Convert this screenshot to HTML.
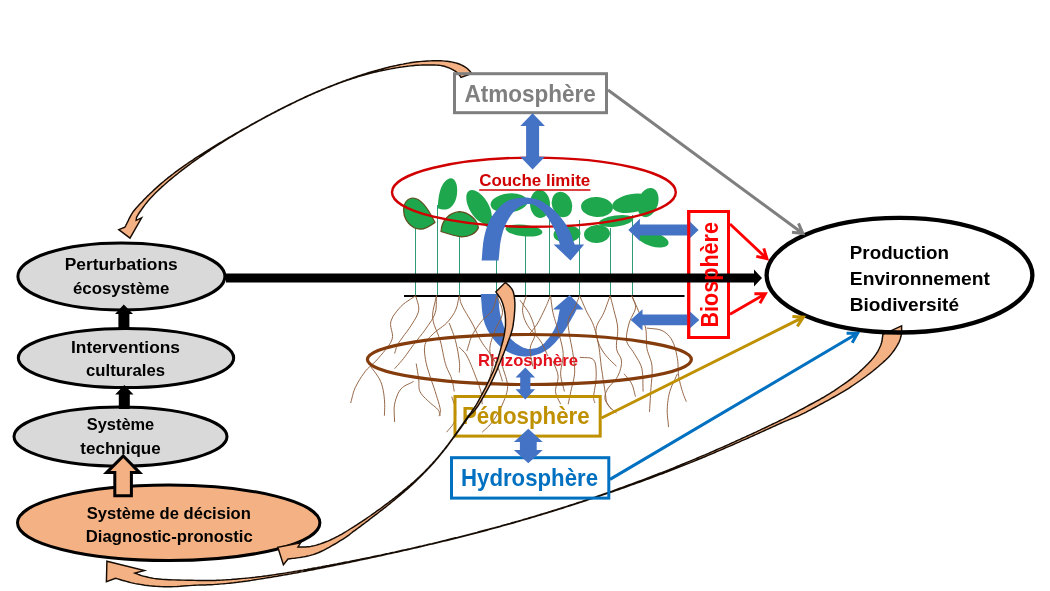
<!DOCTYPE html>
<html lang="fr"><head><meta charset="utf-8"><title>Schéma agrosystème</title>
<style>
html,body{margin:0;padding:0;background:#fff;}
body{width:1050px;height:591px;overflow:hidden;}
svg{display:block;will-change:transform;}
svg text{font-family:"Liberation Sans",sans-serif;font-weight:bold;}
</style></head><body>
<svg width="1050" height="591" viewBox="0 0 1050 591">
<rect width="1050" height="591" fill="#fff"/>
<line x1="415.5" y1="225" x2="415.5" y2="296" stroke="#2f9a78" stroke-width="1"/>
<line x1="437.5" y1="205" x2="437.5" y2="296" stroke="#2f9a78" stroke-width="1"/>
<line x1="459.5" y1="232" x2="459.5" y2="296" stroke="#2f9a78" stroke-width="1"/>
<line x1="496.5" y1="250" x2="496.5" y2="296" stroke="#2f9a78" stroke-width="1"/>
<line x1="525.5" y1="225" x2="525.5" y2="296" stroke="#2f9a78" stroke-width="1"/>
<line x1="549.5" y1="215" x2="549.5" y2="296" stroke="#2f9a78" stroke-width="1"/>
<line x1="579.5" y1="220" x2="579.5" y2="296" stroke="#2f9a78" stroke-width="1"/>
<line x1="610.5" y1="228" x2="610.5" y2="296" stroke="#2f9a78" stroke-width="1"/>
<line x1="632.5" y1="215" x2="632.5" y2="296" stroke="#2f9a78" stroke-width="1"/>
<path d="M438,208.5 C438,195 441,181 450,178.3 C456,178 458,186 457,194 C456,203 451,209 446,209.5 C443,209.8 440,209 438,208.5Z" fill="#1ea74c"/>
<ellipse cx="479" cy="207" rx="9.5" ry="19" transform="rotate(-31 479 207)" fill="#1ea74c"/>
<ellipse cx="509" cy="203" rx="18.5" ry="9.5" transform="rotate(-6 509 203)" fill="#1ea74c"/>
<ellipse cx="540" cy="204" rx="10" ry="14" transform="rotate(-3 540 204)" fill="#1ea74c"/>
<ellipse cx="562" cy="204.5" rx="10" ry="13" transform="rotate(-18 562 204.5)" fill="#1ea74c"/>
<ellipse cx="524" cy="230.5" rx="18.5" ry="5.8" transform="rotate(6 524 230.5)" fill="#1ea74c"/>
<ellipse cx="597" cy="207" rx="16" ry="10" transform="rotate(4 597 207)" fill="#1ea74c"/>
<ellipse cx="632" cy="203.3" rx="20" ry="9.2" transform="rotate(-10 632 203.3)" fill="#1ea74c"/>
<ellipse cx="648" cy="202.6" rx="10" ry="15" transform="rotate(18 648 202.6)" fill="#1ea74c"/>
<ellipse cx="597" cy="234" rx="13" ry="9" transform="rotate(-4 597 234)" fill="#1ea74c"/>
<ellipse cx="616" cy="221" rx="17.5" ry="5.5" transform="rotate(-8 616 221)" fill="#1ea74c"/>
<ellipse cx="653" cy="239.5" rx="16" ry="7" transform="rotate(15 653 239.5)" fill="#1ea74c"/>
<ellipse cx="567" cy="234" rx="13.5" ry="8.5" transform="rotate(-5 567 234)" fill="#1ea74c"/>
<ellipse cx="490" cy="222" rx="9" ry="6" transform="rotate(30 490 222)" fill="#1ea74c"/>
<path d="M403.7,211 C403,203 408,198 413,198 C420,198 427,206 435,222.4 C430,226 425,229 420.5,229.2 C411,229 404,220 403.7,211Z" fill="#1ea74c" stroke="#5f4a1c" stroke-width="1.2"/>
<path d="M441,231.5 C441.5,221 449,212.5 459.3,211.7 C469,212.5 477,219 478.4,227.7 C476,233.5 469,237 461.6,236.9 C454,236 447,233.5 441,231.5Z" fill="#1ea74c" stroke="#5f4a1c" stroke-width="1.2"/>
<ellipse cx="533.9" cy="192.2" rx="141.9" ry="34.6" fill="none" stroke="#d00000" stroke-width="2.4"/>
<text x="479.2" y="186.3" font-size="17" fill="#d00000" text-anchor="start" textLength="111" lengthAdjust="spacingAndGlyphs">Couche limite</text>
<line x1="479.2" y1="190" x2="590.4" y2="190" stroke="#d00000" stroke-width="1.3"/>
<text x="478" y="365.6" font-size="16.6" fill="#e3101c" text-anchor="start" textLength="100" lengthAdjust="spacingAndGlyphs">Rhizosphère</text>
<line x1="404" y1="296" x2="684.5" y2="296" stroke="#000" stroke-width="2"/>
<path d="M481.6,260.5 L481.9,257.8 L482.1,255.0 L482.3,252.2 L482.5,249.4 L482.8,246.7 L483.0,244.0 L483.4,241.4 L483.8,238.9 L484.3,236.5 L484.8,234.2 L485.4,232.0 L486.0,229.8 L486.7,227.8 L487.4,225.7 L488.2,223.8 L489.0,221.9 L489.9,220.1 L490.8,218.3 L491.9,216.6 L492.9,215.0 L494.0,213.5 L495.2,212.0 L496.3,210.6 L497.5,209.2 L498.7,207.9 L499.9,206.7 L501.1,205.5 L502.3,204.4 L503.7,203.4 L505.0,202.4 L506.5,201.6 L508.0,200.8 L509.7,200.1 L511.4,199.5 L513.3,199.0 L515.2,198.5 L517.1,198.2 L519.1,197.9 L521.0,197.7 L522.9,197.6 L524.8,197.6 L526.7,197.6 L528.5,197.8 L530.4,198.0 L532.3,198.3 L534.1,198.7 L536.0,199.1 L537.7,199.7 L539.4,200.3 L541.1,201.1 L542.7,201.9 L544.3,202.9 L545.9,203.9 L547.4,204.9 L548.9,206.0 L550.4,207.1 L551.8,208.3 L553.2,209.5 L554.6,210.7 L556.0,212.1 L557.3,213.4 L558.6,214.8 L559.8,216.3 L561.0,217.7 L562.2,219.2 L563.3,220.7 L564.4,222.2 L565.5,223.8 L566.6,225.4 L567.6,227.1 L568.5,228.7 L569.4,230.4 L570.2,232.1 L570.9,233.8 L571.6,235.6 L572.2,237.4 L572.8,239.2 L573.4,241.0 L574.1,242.8 L574.7,244.6 L584.2,244.6 L570.5,260.5 L553.6,244.6 L559.9,244.6 L559.5,243.4 L559.2,242.2 L558.8,241.0 L558.5,239.8 L558.1,238.5 L557.7,237.3 L557.2,236.0 L556.7,234.6 L556.1,233.1 L555.4,231.6 L554.7,230.0 L553.9,228.3 L553.1,226.7 L552.2,225.0 L551.3,223.4 L550.4,221.9 L549.5,220.4 L548.5,218.8 L547.5,217.3 L546.4,215.8 L545.3,214.3 L544.2,213.0 L543.1,211.7 L541.9,210.5 L540.7,209.4 L539.4,208.4 L538.1,207.4 L536.7,206.5 L535.4,205.7 L534.0,205.1 L532.6,204.6 L531.3,204.2 L530.0,204.0 L528.6,204.0 L527.3,204.1 L525.9,204.4 L524.6,204.8 L523.3,205.2 L522.0,205.7 L520.8,206.3 L519.6,206.9 L518.5,207.6 L517.4,208.4 L516.4,209.2 L515.3,210.2 L514.3,211.2 L513.3,212.3 L512.3,213.5 L511.3,214.8 L510.3,216.2 L509.3,217.8 L508.3,219.4 L507.4,221.0 L506.5,222.7 L505.7,224.5 L504.9,226.2 L504.2,227.9 L503.6,229.6 L503.0,231.4 L502.5,233.2 L502.0,235.0 L501.5,236.9 L501.1,238.9 L500.7,241.0 L500.3,243.2 L500.0,245.5 L499.8,248.0 L499.5,250.5 L499.3,253.0 L499.1,255.5 L498.8,258.0 L498.6,260.5Z" fill="#4472c4"/>
<path d="M480.7,294.0 L481.0,297.3 L481.3,300.7 L481.6,304.1 L481.8,307.5 L482.1,310.8 L482.5,314.0 L483.0,317.1 L483.7,320.0 L484.5,322.7 L485.4,325.2 L486.4,327.6 L487.5,329.9 L488.7,332.1 L490.0,334.2 L491.3,336.3 L492.8,338.3 L494.4,340.3 L496.1,342.3 L497.9,344.2 L499.8,346.0 L501.8,347.7 L503.8,349.3 L505.9,350.8 L508.0,352.0 L510.1,353.1 L512.3,354.0 L514.6,354.8 L516.9,355.5 L519.2,356.0 L521.6,356.3 L523.9,356.5 L526.3,356.5 L528.7,356.3 L531.2,356.0 L533.8,355.4 L536.3,354.7 L538.9,353.9 L541.4,352.9 L543.7,351.8 L546.0,350.5 L548.1,349.1 L550.2,347.4 L552.2,345.6 L554.1,343.7 L556.0,341.7 L557.8,339.6 L559.6,337.4 L561.3,335.2 L563.0,332.8 L564.8,330.2 L566.5,327.5 L568.2,324.7 L569.7,322.0 L571.2,319.5 L572.4,317.2 L573.5,315.4 L574.3,314.0 L574.9,312.9 L575.3,312.1 L575.6,311.5 L575.8,311.0 L576.0,310.6 L576.3,310.1 L576.6,309.4 L583.4,309.4 L569.7,294.9 L553.0,309.4 L559.8,309.4 L559.3,311.7 L558.8,314.0 L558.4,316.3 L558.0,318.6 L557.5,320.9 L556.9,323.1 L556.1,325.4 L555.2,327.6 L554.0,329.9 L552.7,332.2 L551.2,334.5 L549.6,336.9 L547.9,339.1 L546.2,341.1 L544.6,342.9 L543.0,344.4 L541.5,345.6 L539.9,346.6 L538.4,347.3 L536.9,347.9 L535.3,348.3 L533.8,348.6 L532.3,348.8 L530.9,348.9 L529.5,348.9 L528.2,348.9 L526.9,348.7 L525.6,348.3 L524.3,347.9 L522.9,347.4 L521.6,346.7 L520.2,345.9 L518.7,345.0 L517.1,344.0 L515.5,342.9 L513.9,341.6 L512.3,340.2 L510.8,338.7 L509.3,337.0 L508.0,335.2 L506.8,333.2 L505.6,330.9 L504.6,328.5 L503.6,326.0 L502.7,323.3 L501.8,320.7 L501.1,318.0 L500.4,315.4 L499.9,312.8 L499.5,310.2 L499.2,307.5 L499.0,304.8 L498.8,302.1 L498.6,299.4 L498.4,296.7 L498.2,294.0Z" fill="#4472c4"/>
<path d="M415.7,295.6 L413.1,297.4 L410.6,299.1 L408.0,300.8 L405.5,302.5 L403.1,304.4 L400.9,306.5 L398.8,308.8 L396.8,311.2 L394.9,313.7 L393.1,316.3 L391.8,319.0 L390.8,321.7 L390.5,324.5 L390.9,327.4 L391.6,330.4 L392.3,333.4 L392.6,336.4 L392.0,339.5 L390.6,342.7 L388.5,346.0 L385.9,349.3 L383.2,352.6 L380.5,355.7 L378.1,358.5 L375.9,361.0 L373.7,363.1 L371.5,365.1 L369.4,367.0 L367.3,369.0 L365.4,371.2 L363.5,373.8 L361.6,376.5 L359.8,379.3 L358.1,382.2 L356.6,385.0 L355.2,387.7 L354.1,390.4 L353.3,392.9 L352.6,395.4 L352.0,397.9 L351.4,400.4 L350.7,403.0 M370.5,366.2 L372.2,368.7 L374.1,371.1 L375.9,373.6 L377.7,376.1 L379.3,378.7 L380.6,381.4 L381.7,384.2 L382.5,387.2 L383.2,390.2 L383.7,393.2 L384.1,396.2 L384.4,399.2 L384.6,402.0 L384.7,404.8 L384.7,407.5 L384.6,410.2 L384.5,412.9 L384.4,415.7 M415.7,295.6 L416.3,298.0 L417.1,300.5 L417.8,302.9 L418.5,305.4 L418.8,307.8 L418.7,310.3 L418.1,312.8 L417.1,315.3 L415.9,317.7 L414.4,320.3 L412.8,322.9 L411.1,325.5 L409.2,328.4 L406.9,331.6 L404.5,334.7 L402.2,337.9 L400.1,340.8 L398.4,343.3 L397.2,345.4 L396.5,347.3 L395.9,348.9 L395.5,350.4 L395.1,351.9 L394.6,353.5 M436.5,295.6 L436.3,298.5 L436.3,301.4 L436.3,304.3 L436.2,307.2 L435.9,310.1 L435.2,312.8 L434.2,315.5 L432.9,318.0 L431.5,320.5 L429.8,323.0 L428.1,325.5 L426.3,328.1 L424.4,330.8 L422.3,333.6 L420.0,336.4 L417.8,339.2 L415.6,342.0 L413.6,344.6 L411.8,347.1 L410.0,349.6 L408.3,352.0 L406.7,354.3 L405.1,356.5 L403.5,358.5 L401.9,360.5 L400.4,362.2 L398.9,363.9 L397.5,365.5 L396.0,367.1 L394.6,368.7 M436.5,295.6 L435.7,299.3 L434.8,303.0 L433.9,306.7 L433.1,310.4 L432.6,314.2 L432.7,317.9 L433.3,321.7 L434.4,325.5 L435.9,329.3 L437.5,333.1 L439.0,337.0 L440.3,340.8 L441.3,344.7 L442.1,348.7 L442.9,352.7 L443.7,356.6 L444.5,360.3 L445.4,363.6 L446.4,366.6 L447.5,369.4 L448.7,371.9 L449.8,374.2 L450.9,376.6 L451.7,378.9 L452.3,381.1 L452.8,383.3 L453.2,385.4 L453.5,387.4 L453.9,389.5 L454.2,391.5 M459.3,295.6 L458.7,298.1 L458.2,300.6 L457.7,303.1 L457.2,305.6 L456.4,308.0 L455.5,310.3 L454.4,312.6 L453.1,314.8 L451.6,316.9 L450.1,319.0 L448.4,321.1 L446.6,323.0 L444.7,324.8 L442.5,326.5 L440.3,328.2 L438.0,329.8 L435.9,331.4 L433.9,333.2 L432.1,334.9 L430.3,336.6 L428.6,338.3 L427.1,340.2 L425.9,342.2 L425.0,344.6 L424.6,347.2 L424.4,350.0 L424.6,353.1 L425.0,356.3 L425.5,359.8 L426.3,363.6 L427.4,367.9 L428.9,372.6 L430.5,377.7 L432.2,382.7 L433.9,387.4 L435.2,391.5 L436.3,395.2 L437.4,398.6 L438.4,401.8 L439.2,404.6 L439.8,407.1 L440.3,409.3 L440.4,411.1 L440.3,412.4 L440.0,413.4 L439.7,414.3 L439.3,415.2 L439.0,416.2 M459.3,295.6 L459.7,297.1 L459.9,298.5 L460.1,299.9 L460.4,301.4 L461.0,303.2 L461.9,305.2 L463.1,307.7 L464.7,310.6 L466.5,313.6 L468.4,316.8 L470.3,319.9 L472.0,323.0 L473.6,326.0 L475.1,329.1 L476.5,332.2 L478.0,335.2 L479.4,338.1 L480.9,340.8 L482.4,343.2 L483.9,345.4 L485.4,347.4 L486.9,349.4 L488.4,351.4 L489.8,353.5 L491.2,355.6 L492.5,357.6 L493.8,359.7 L495.1,361.7 L496.3,363.9 L497.4,366.2 L498.4,368.6 L499.3,371.1 L500.1,373.6 L500.9,376.2 L501.7,378.8 L502.5,381.4 M416.2,363.6 L416.6,366.2 L417.1,368.8 L417.5,371.4 L417.9,374.0 L418.4,376.5 L418.7,378.9 L418.9,381.1 L418.9,383.4 L418.9,385.5 L419.0,387.6 L419.3,389.6 L420.0,391.5 L421.0,393.4 L422.4,395.2 L423.9,396.9 L425.6,398.6 L427.3,400.2 L428.9,401.7 L430.4,403.1 L432.1,404.5 L433.7,405.7 L435.2,407.0 L436.6,408.2 L437.7,409.3 L438.5,410.5 L439.1,411.5 L439.4,412.6 L439.7,413.6 L439.9,414.6 L440.3,415.7 M394.6,422.0 L394.5,419.0 L394.3,416.0 L394.2,413.0 L394.1,410.0 L394.2,407.1 L394.6,404.2 L395.2,401.5 L396.0,398.7 L397.0,396.0 L398.1,393.4 L399.4,391.1 L400.9,389.0 L402.7,387.3 L404.7,385.9 L406.9,384.7 L409.2,383.7 L411.4,382.6 L413.6,381.4 M449.2,323.0 L450.3,325.9 L451.4,328.8 L452.5,331.7 L453.6,334.7 L454.6,337.7 L455.5,340.8 L456.3,344.1 L457.1,347.7 L457.8,351.3 L458.4,354.9 L458.9,358.2 L459.3,361.1 L459.5,363.5 L459.6,365.6 L459.6,367.4 L459.5,369.0 L459.4,370.7 L459.3,372.5 M459.3,347.1 L460.6,348.5 L461.9,349.8 L463.1,351.0 L464.4,352.4 L465.7,354.0 L466.9,356.0 L468.2,358.5 L469.5,361.3 L470.8,364.3 L472.1,367.5 L473.4,370.7 L474.6,373.8 L475.7,376.8 L476.9,379.9 L478.1,383.0 L479.2,386.0 L480.1,388.9 L480.9,391.5 L481.4,394.0 L481.7,396.2 L481.9,398.2 L481.9,400.2 L482.0,402.2 L482.2,404.2 M496.9,295.6 L496.2,298.1 L495.6,300.7 L495.0,303.2 L494.3,305.7 L493.4,308.1 L492.3,310.3 L491.0,312.2 L489.4,313.8 L487.6,315.4 L485.8,316.9 L483.9,318.5 L482.2,320.5 L480.4,322.7 L478.6,325.2 L476.8,327.8 L475.0,330.4 L473.4,333.1 L472.0,335.7 L470.9,338.2 L469.9,340.8 L469.2,343.3 L468.4,345.9 L467.7,348.4 L466.9,350.9 M496.9,295.6 L498.0,298.5 L499.2,301.3 L500.5,304.2 L501.6,307.1 L502.3,309.9 L502.5,312.8 L501.9,315.8 L500.8,318.7 L499.3,321.7 L497.7,324.7 L496.1,327.7 L494.9,330.6 L493.8,333.6 L492.7,336.5 L491.7,339.5 L490.8,342.5 L490.2,345.4 L489.8,348.4 L489.9,351.3 L490.3,354.2 L491.1,357.1 L491.8,360.0 L492.3,363.1 L492.3,366.2 L491.9,369.4 L491.2,372.7 L490.3,376.2 L489.2,379.6 L488.2,383.1 L487.2,386.5 M502.5,366.2 L503.4,369.6 L504.5,373.0 L505.7,376.5 L506.6,379.9 L507.3,383.2 L507.6,386.5 L507.4,389.6 L506.8,392.6 L506.0,395.5 L504.9,398.4 L503.7,401.3 L502.5,404.2 L501.1,407.3 L499.5,410.4 L497.7,413.6 L495.9,416.7 L494.1,419.5 L492.3,422.0 L490.6,424.1 L488.9,426.0 L487.2,427.6 L485.6,429.1 L483.9,430.6 L482.2,432.2 M446.6,432.2 L448.0,430.5 L449.4,428.9 L450.8,427.2 L452.2,425.6 L453.3,423.9 L454.2,422.0 L454.9,420.0 L455.3,418.0 L455.6,415.8 L455.7,413.6 L455.7,411.5 L455.5,409.3 L455.2,407.2 L454.6,405.1 L453.9,403.0 L453.2,400.9 L452.4,398.7 L451.7,396.6 M579.7,295.6 L580.7,298.0 L581.7,300.5 L582.8,302.9 L583.8,305.4 L584.9,307.8 L586.0,310.3 L587.2,312.8 L588.5,315.2 L589.9,317.6 L591.2,320.1 L592.5,322.7 L593.6,325.5 L594.6,328.6 L595.6,331.9 L596.5,335.4 L597.3,338.9 L598.0,342.4 L598.7,345.9 L599.3,349.2 L599.7,352.4 L600.0,355.7 L600.4,359.0 L600.8,362.5 L601.2,366.2 L601.8,370.2 L602.5,374.7 L603.1,379.3 L603.8,383.8 L604.5,388.0 L605.0,391.5 L605.5,394.4 L605.8,396.9 L606.0,398.9 L606.3,400.8 L606.8,402.5 L607.6,404.2 L608.7,405.9 L610.1,407.5 L611.6,408.9 L613.3,410.3 L614.9,411.7 L616.5,413.1 M610.1,295.6 L610.8,298.0 L611.4,300.4 L612.0,302.8 L612.7,305.2 L613.3,307.7 L613.9,310.3 L614.6,313.1 L615.4,315.9 L616.2,318.8 L616.8,321.9 L617.4,324.9 L617.7,328.1 L617.7,331.4 L617.5,334.9 L617.0,338.6 L616.6,342.1 L616.4,345.4 L616.5,348.4 L617.1,350.9 L618.0,353.1 L619.2,355.1 L620.3,356.9 L621.1,358.9 L621.5,361.1 L621.5,363.5 L621.2,366.1 L620.6,368.7 L619.8,371.3 L618.8,373.9 L617.7,376.3 L616.3,378.6 L614.5,380.8 L612.6,383.0 L610.6,385.1 L608.9,387.1 L607.6,389.0 L606.6,390.8 L605.8,392.6 L605.3,394.2 L605.0,395.9 L604.9,397.5 L605.0,399.2 L605.6,400.9 L606.5,402.5 L607.7,404.2 L608.9,405.9 L610.2,407.6 L611.4,409.3 M631.7,295.6 L632.5,297.6 L633.3,299.5 L634.2,301.5 L635.0,303.5 L635.5,305.6 L635.5,307.8 L635.0,310.1 L634.0,312.5 L632.7,315.0 L631.4,317.6 L630.1,320.3 L629.2,323.0 L628.4,325.9 L627.7,328.9 L627.0,332.0 L626.6,335.1 L626.4,338.1 L626.6,340.8 L627.3,343.2 L628.4,345.3 L629.8,347.3 L631.3,349.2 L632.9,351.3 L634.2,353.5 L635.6,355.8 L637.0,358.1 L638.4,360.4 L639.8,363.0 L641.0,365.7 L641.9,368.7 L642.4,372.1 L642.8,375.8 L642.9,379.6 L642.9,383.7 L643.0,387.7 L643.1,391.5 M631.7,295.6 L633.0,298.5 L634.3,301.4 L635.6,304.3 L636.9,307.2 L638.1,310.1 L639.3,312.8 L640.5,315.4 L641.7,317.9 L642.9,320.3 L644.0,322.7 L644.9,325.3 L645.7,328.1 L646.1,331.2 L646.3,334.6 L646.4,338.1 L646.4,341.6 L646.6,345.1 L646.9,348.4 L647.6,351.4 L648.6,354.2 L649.6,357.0 L650.6,359.8 L651.5,362.8 L652.0,366.2 L652.2,370.0 L652.1,374.2 L651.8,378.7 L651.4,383.2 L651.0,387.5 L650.7,391.5 L650.5,395.2 L650.3,398.7 L650.1,402.0 L649.9,405.3 L649.7,408.5 L649.5,411.9 M646.9,328.1 L649.5,328.4 L652.2,328.6 L654.9,328.9 L657.5,329.2 L659.9,329.8 L662.2,330.6 L664.2,331.8 L666.1,333.2 L667.9,334.7 L669.5,336.5 L671.0,338.6 L672.3,340.8 L673.5,343.3 L674.5,346.1 L675.4,349.2 L676.2,352.3 L676.8,355.5 L677.4,358.5 L677.8,361.5 L678.0,364.6 L678.1,367.6 L678.2,370.6 L678.4,373.5 L678.7,376.3 L679.2,379.1 L679.8,381.8 L680.4,384.4 L681.1,386.9 L681.8,389.3 L682.5,391.5 L683.1,393.5 L683.7,395.3 L684.4,396.9 L685.0,398.5 L685.7,400.1 L686.3,401.7 M677.4,373.8 L676.1,376.7 L674.7,379.7 L673.3,382.7 L671.9,385.6 L670.8,388.6 L669.8,391.5 L669.0,394.5 L668.4,397.5 L668.0,400.4 L667.6,403.4 L667.4,406.4 L667.2,409.3 L667.2,412.3 L667.4,415.2 L667.6,418.2 L668.0,421.2 L668.3,424.1 L668.5,427.1 M569.5,335.7 L570.2,339.1 L570.9,342.6 L571.6,346.0 L572.2,349.4 L572.8,352.8 L573.3,356.0 L573.7,359.1 L574.1,362.1 L574.4,365.1 L574.6,367.9 L574.7,370.8 L574.6,373.8 L574.2,376.8 L573.6,379.9 L572.9,383.0 L572.1,386.0 L571.4,388.9 L570.8,391.5 L570.3,394.0 L569.8,396.2 L569.4,398.2 L569.0,400.2 L568.6,402.2 L568.2,404.2 M550.5,295.6 L550.9,298.5 L551.2,301.3 L551.6,304.2 L552.0,307.1 L552.4,309.9 L553.0,312.8 L553.7,315.7 L554.5,318.5 L555.4,321.4 L556.3,324.3 L557.2,327.4 L558.1,330.6 L559.0,334.2 L560.1,338.0 L561.1,341.9 L562.0,345.9 L562.8,349.7 L563.2,353.5 L563.1,357.0 L562.6,360.5 L562.0,363.9 L561.3,367.3 L560.8,370.6 L560.6,373.8 L560.9,376.9 L561.4,379.9 L562.1,382.8 L562.9,385.7 L563.7,388.6 L564.4,391.5 M579.7,357.3 L582.1,357.5 L584.7,357.6 L587.4,357.7 L589.8,357.9 L592.0,358.6 L593.6,359.8 L594.8,361.7 L595.5,364.1 L595.9,367.0 L596.1,370.0 L596.2,373.2 L596.2,376.3 L596.0,379.6 L595.6,383.3 L595.0,387.1 L594.4,390.7 L593.9,394.0 L593.6,396.6 L593.6,398.5 L593.8,399.8 L594.0,400.7 L594.3,401.4 L594.6,402.1 L594.9,403.0 M520.0,300.2 L521.8,302.7 L523.6,305.1 L525.4,307.6 L527.1,310.1 L528.8,312.7 L530.2,315.4 L531.4,318.2 L532.6,321.2 L533.6,324.3 L534.5,327.3 L535.0,330.3 L535.2,333.2 L534.9,335.8 L534.0,338.3 L532.9,340.8 L531.7,343.2 L530.7,345.7 L530.2,348.4 L530.1,351.2 L530.4,354.1 L530.9,357.1 L531.6,360.1 L532.2,363.2 L532.7,366.2 M624.1,373.8 L625.4,375.4 L626.8,377.1 L628.1,378.7 L629.4,380.4 L630.7,382.1 L631.7,383.9 L632.6,385.9 L633.3,388.0 L633.8,390.1 L634.4,392.3 L634.9,394.5 L635.5,396.6 M526.3,295.6 L525.6,298.0 L524.7,300.5 L523.9,302.9 L523.1,305.4 L522.7,307.8 L522.5,310.3 L522.8,312.8 L523.3,315.3 L524.0,317.9 L525.0,320.4 L526.2,323.0 L527.6,325.5 L529.3,328.1 L531.5,330.6 L533.8,333.2 L536.2,335.7 L538.4,338.2 L540.3,340.8 L541.9,343.3 L543.2,345.9 L544.4,348.4 L545.6,350.9 L546.7,353.5 L547.9,356.0 M550.5,295.6 L549.6,297.6 L548.9,299.5 L548.1,301.5 L547.3,303.5 L546.4,305.6 L545.4,307.8 L544.3,310.2 L543.0,312.8 L541.7,315.5 L540.4,318.2 L539.1,320.7 L537.8,323.0 L536.5,325.0 L535.2,326.8 L534.0,328.4 L532.7,330.0 L531.4,331.5 L530.2,333.2 M579.7,295.6 L578.8,297.6 L578.0,299.6 L577.2,301.6 L576.4,303.7 L575.5,305.7 L574.6,307.8 L573.5,309.8 L572.3,311.9 L571.0,313.9 L569.8,316.0 L568.9,318.2 L568.2,320.5 L568.0,322.9 L568.1,325.4 L568.4,327.9 L568.8,330.5 L569.2,333.1 L569.5,335.7 M610.1,295.6 L609.1,298.5 L608.1,301.4 L607.0,304.3 L606.0,307.2 L604.9,310.1 L603.8,312.8 L602.5,315.5 L601.0,318.1 L599.4,320.6 L598.0,323.1 L596.9,325.6 L596.2,328.1 L595.9,330.6 L596.1,333.3 L596.5,335.9 L597.1,338.4 L597.9,340.9 L598.7,343.3 L599.6,345.6 L600.8,347.8 L602.0,350.0 L603.4,352.1 L604.8,354.1 L606.3,356.0 L607.9,357.8 L609.5,359.6 L611.2,361.2 L613.0,362.9 L614.7,364.5 L616.5,366.2 M553.0,361.1 L553.9,363.6 L555.0,366.2 L556.0,368.7 L557.0,371.2 L557.7,373.8 L558.1,376.3 L558.0,378.9 L557.5,381.5 L556.8,384.1 L556.1,386.7 L555.6,389.2 L555.5,391.5 L555.9,393.8 L556.7,396.0 L557.6,398.1 L558.6,400.1 L559.7,402.2 L560.6,404.2" fill="none" stroke="#90603f" stroke-width="0.95"/>
<ellipse cx="529.4" cy="359.5" rx="162" ry="25" fill="none" stroke="#843c0c" stroke-width="3.2"/>
<path d="M472.0,73.5 L471.2,72.7 L470.5,71.9 L469.8,71.1 L469.0,70.3 L468.3,69.5 L467.5,68.7 L466.6,68.0 L465.6,67.3 L464.5,66.6 L463.4,66.0 L462.3,65.4 L461.1,64.8 L459.8,64.3 L458.4,63.8 L457.0,63.3 L455.5,62.9 L453.9,62.5 L452.3,62.1 L450.5,61.8 L448.7,61.5 L446.8,61.3 L444.9,61.1 L442.8,60.9 L440.6,60.8 L438.2,60.7 L435.6,60.8 L432.9,60.8 L430.1,60.9 L427.3,61.0 L424.6,61.2 L422.0,61.4 L419.6,61.6 L417.5,61.8 L415.5,62.0 L413.6,62.2 L411.9,62.5 L410.2,62.8 L408.4,63.1 L406.7,63.4 L404.9,63.7 L403.1,64.1 L401.2,64.4 L399.4,64.8 L397.5,65.2 L395.7,65.6 L393.8,66.0 L392.0,66.4 L390.1,66.8 L388.3,67.3 L386.5,67.7 L384.6,68.2 L382.8,68.7 L381.0,69.2 L379.1,69.6 L377.3,70.2 L375.5,70.7 L373.7,71.2 L371.9,71.7 L370.0,72.3 L368.2,72.8 L366.4,73.4 L364.6,74.0 L362.8,74.5 L361.0,75.1 L359.2,75.7 L357.4,76.3 L355.6,76.9 L353.8,77.5 L352.1,78.1 L350.3,78.8 L348.5,79.4 L346.7,80.0 L345.0,80.7 L343.2,81.3 L341.4,82.0 L339.7,82.6 L337.9,83.3 L336.2,84.0 L334.4,84.6 L332.7,85.3 L330.9,86.0 L329.2,86.7 L327.4,87.4 L325.7,88.1 L324.0,88.8 L322.2,89.5 L320.5,90.3 L318.8,91.0 L317.1,91.7 L315.4,92.5 L313.7,93.2 L312.0,94.0 L310.3,94.7 L308.6,95.5 L306.9,96.2 L305.2,97.0 L303.5,97.8 L301.8,98.6 L300.1,99.4 L298.5,100.2 L296.8,101.0 L295.1,101.8 L293.5,102.6 L291.8,103.4 L290.1,104.2 L288.5,105.0 L286.8,105.8 L285.1,106.7 L283.5,107.5 L281.8,108.3 L280.2,109.2 L278.5,110.0 L276.9,110.9 L275.3,111.7 L273.6,112.6 L272.0,113.4 L270.3,114.3 L268.7,115.2 L267.1,116.0 L265.4,116.9 L263.8,117.8 L262.2,118.7 L260.6,119.6 L258.9,120.5 L257.3,121.3 L255.7,122.2 L254.1,123.1 L252.4,124.0 L250.8,124.9 L249.2,125.9 L247.6,126.8 L246.0,127.7 L244.3,128.6 L242.7,129.5 L241.1,130.4 L239.5,131.4 L237.9,132.3 L236.3,133.2 L234.6,134.2 L233.0,135.1 L231.4,136.0 L229.8,137.0 L228.2,137.9 L226.6,138.9 L225.0,139.8 L223.4,140.8 L221.8,141.8 L220.1,142.7 L218.5,143.7 L216.9,144.7 L215.3,145.6 L213.7,146.6 L212.1,147.6 L210.5,148.6 L208.9,149.6 L207.3,150.6 L205.7,151.6 L204.1,152.6 L202.6,153.6 L201.0,154.6 L199.4,155.7 L197.8,156.7 L196.2,157.7 L194.6,158.7 L193.1,159.8 L191.5,160.8 L189.9,161.9 L188.4,162.9 L186.8,164.0 L185.2,165.1 L183.7,166.2 L182.1,167.3 L180.6,168.3 L179.1,169.4 L177.5,170.6 L176.0,171.7 L174.5,172.8 L173.0,174.0 L171.5,175.1 L170.0,176.3 L168.5,177.4 L167.1,178.6 L165.6,179.8 L164.2,181.0 L162.7,182.2 L161.3,183.4 L159.9,184.6 L158.5,185.9 L157.1,187.1 L155.7,188.4 L154.3,189.6 L152.9,190.9 L151.6,192.2 L150.2,193.5 L148.9,194.8 L147.5,196.1 L146.2,197.4 L144.9,198.7 L143.6,200.0 L142.4,201.4 L141.1,202.7 L139.8,204.1 L138.5,205.5 L137.2,206.9 L136.0,208.3 L134.8,209.7 L133.7,211.0 L132.7,212.4 L131.8,213.8 L130.9,215.3 L130.1,216.8 L129.3,218.3 L128.6,219.7 L128.0,221.1 L127.4,222.3 L126.9,223.3 L126.5,224.1 L126.1,224.8 L125.9,225.3 L125.7,225.7 L125.5,226.1 L125.3,226.5 L125.1,226.8 L124.9,227.3 L118.8,229.6 L130.0,238.2 L141.6,217.9 L136.2,220.3 L136.3,219.8 L136.3,219.4 L136.3,219.0 L136.3,218.6 L136.4,218.2 L136.5,217.6 L136.8,216.9 L137.3,216.0 L138.0,214.9 L138.8,213.5 L139.8,212.0 L140.9,210.5 L142.0,208.8 L143.2,207.2 L144.4,205.6 L145.5,204.1 L146.7,202.7 L147.8,201.3 L149.0,199.9 L150.2,198.6 L151.4,197.2 L152.7,195.9 L154.0,194.6 L155.2,193.3 L156.5,192.0 L157.9,190.7 L159.2,189.4 L160.6,188.2 L161.9,186.9 L163.3,185.7 L164.7,184.5 L166.1,183.2 L167.5,182.0 L168.9,180.8 L170.3,179.6 L171.8,178.4 L173.2,177.2 L174.7,176.0 L176.1,174.9 L177.6,173.7 L179.0,172.5 L180.5,171.4 L182.0,170.2 L183.5,169.1 L185.0,167.9 L186.5,166.8 L188.0,165.7 L189.5,164.6 L191.0,163.5 L192.5,162.3 L194.1,161.2 L195.6,160.1 L197.1,159.1 L198.7,158.0 L200.2,156.9 L201.8,155.8 L203.3,154.8 L204.9,153.7 L206.4,152.6 L208.0,151.6 L209.6,150.6 L211.1,149.5 L212.7,148.5 L214.3,147.5 L215.8,146.4 L217.4,145.4 L219.0,144.4 L220.6,143.4 L222.2,142.4 L223.7,141.4 L225.3,140.4 L226.9,139.4 L228.5,138.5 L230.1,137.5 L231.7,136.5 L233.3,135.6 L234.9,134.6 L236.5,133.6 L238.1,132.7 L239.7,131.7 L241.3,130.8 L242.9,129.8 L244.5,128.9 L246.1,128.0 L247.7,127.1 L249.4,126.1 L251.0,125.2 L252.6,124.3 L254.2,123.4 L255.8,122.5 L257.4,121.6 L259.1,120.7 L260.7,119.8 L262.3,118.9 L264.0,118.1 L265.6,117.2 L267.2,116.3 L268.8,115.4 L270.5,114.6 L272.1,113.7 L273.8,112.8 L275.4,112.0 L277.0,111.1 L278.7,110.3 L280.3,109.4 L282.0,108.6 L283.6,107.8 L285.3,106.9 L286.9,106.1 L288.6,105.3 L290.3,104.5 L291.9,103.6 L293.6,102.8 L295.2,102.0 L296.9,101.2 L298.6,100.4 L300.3,99.6 L302.0,98.8 L303.6,98.1 L305.3,97.3 L307.0,96.5 L308.7,95.7 L310.4,95.0 L312.1,94.2 L313.8,93.5 L315.5,92.7 L317.2,92.0 L318.9,91.3 L320.6,90.5 L322.4,89.8 L324.1,89.1 L325.8,88.4 L327.5,87.7 L329.3,87.0 L331.0,86.3 L332.8,85.6 L334.5,84.9 L336.3,84.2 L338.0,83.6 L339.8,82.9 L341.5,82.3 L343.3,81.6 L345.1,81.0 L346.9,80.4 L348.6,79.8 L350.4,79.2 L352.2,78.6 L354.0,78.0 L355.8,77.5 L357.6,76.9 L359.4,76.4 L361.2,75.9 L363.0,75.3 L364.9,74.8 L366.7,74.3 L368.5,73.8 L370.3,73.4 L372.2,72.9 L374.0,72.4 L375.8,72.0 L377.7,71.6 L379.5,71.1 L381.4,70.7 L383.2,70.3 L385.0,70.0 L386.9,69.6 L388.7,69.2 L390.6,68.9 L392.4,68.5 L394.3,68.2 L396.1,67.9 L398.0,67.6 L399.8,67.3 L401.7,67.1 L403.5,66.8 L405.3,66.6 L407.2,66.3 L408.9,66.1 L410.7,65.9 L412.5,65.7 L414.3,65.5 L416.1,65.3 L418.0,65.2 L420.1,65.1 L422.2,65.0 L424.6,64.9 L427.1,64.9 L429.6,64.9 L432.1,64.9 L434.4,65.0 L436.6,65.1 L438.6,65.2 L440.3,65.4 L441.8,65.7 L443.2,66.0 L444.5,66.3 L445.7,66.7 L446.8,67.1 L447.9,67.5 L449.0,67.9 L450.1,68.3 L451.1,68.8 L452.1,69.3 L453.1,69.9 L453.9,70.4 L454.8,70.9 L455.5,71.4 L456.2,71.9 L456.8,72.3 L457.3,72.8 L457.8,73.2 L458.1,73.6 L458.5,74.0 L458.8,74.4 L459.1,74.7 L459.4,75.1 L459.7,75.4 L459.9,75.7 L460.1,76.0 L460.3,76.3 L460.5,76.6 L460.6,76.8 L460.8,77.1 L461.0,77.4Z" fill="#f4b183" stroke="#160c04" stroke-width="1.45" stroke-linejoin="miter" stroke-miterlimit="6"/>
<path d="M882.9,334.4 L882.7,335.6 L882.6,336.7 L882.4,337.8 L882.3,339.0 L882.1,340.1 L881.9,341.3 L881.6,342.5 L881.2,343.7 L880.8,344.9 L880.3,346.2 L879.7,347.5 L879.1,348.8 L878.5,350.0 L877.8,351.3 L877.0,352.6 L876.2,353.9 L875.3,355.2 L874.4,356.4 L873.4,357.7 L872.4,358.9 L871.3,360.2 L870.1,361.4 L868.9,362.7 L867.7,364.0 L866.4,365.3 L865.0,366.7 L863.6,368.1 L862.1,369.5 L860.6,370.9 L859.1,372.3 L857.5,373.7 L855.9,375.0 L854.3,376.3 L852.7,377.6 L851.1,378.8 L849.4,380.1 L847.7,381.4 L846.0,382.6 L844.2,383.9 L842.3,385.2 L840.3,386.5 L838.3,387.9 L836.2,389.3 L834.1,390.8 L831.9,392.2 L829.7,393.6 L827.5,394.9 L825.4,396.2 L823.2,397.5 L821.0,398.7 L818.8,400.0 L816.6,401.2 L814.4,402.4 L812.3,403.5 L810.3,404.5 L808.5,405.5 L806.9,406.4 L805.5,407.1 L804.3,407.8 L803.1,408.5 L801.9,409.1 L800.7,409.7 L799.4,410.4 L798.0,411.2 L796.4,412.1 L794.7,413.0 L792.9,413.9 L791.1,414.9 L789.3,415.9 L787.4,416.9 L785.5,417.8 L783.7,418.8 L781.9,419.7 L780.1,420.5 L778.3,421.4 L776.5,422.3 L774.6,423.2 L772.8,424.0 L771.0,424.9 L769.2,425.7 L767.4,426.6 L765.5,427.5 L763.7,428.3 L761.9,429.2 L760.1,430.1 L758.3,430.9 L756.4,431.8 L754.6,432.6 L752.8,433.5 L751.0,434.3 L749.1,435.2 L747.3,436.0 L745.5,436.9 L743.7,437.7 L741.8,438.5 L740.0,439.4 L738.1,440.2 L736.3,441.0 L734.5,441.9 L732.6,442.7 L730.8,443.5 L729.0,444.3 L727.1,445.2 L725.3,446.0 L723.4,446.8 L721.6,447.6 L719.7,448.4 L717.9,449.2 L716.0,450.0 L714.2,450.8 L712.3,451.7 L710.4,452.5 L708.6,453.3 L706.7,454.1 L704.9,454.9 L703.0,455.6 L701.1,456.4 L699.3,457.2 L697.4,458.0 L695.5,458.8 L693.7,459.6 L691.8,460.4 L689.9,461.2 L688.1,461.9 L686.2,462.7 L684.3,463.5 L682.4,464.2 L680.5,465.0 L678.7,465.8 L676.8,466.5 L674.9,467.3 L673.0,468.1 L671.1,468.8 L669.2,469.6 L667.4,470.3 L665.5,471.1 L663.6,471.8 L661.7,472.6 L659.8,473.3 L657.9,474.0 L656.0,474.8 L654.1,475.5 L652.2,476.2 L650.3,477.0 L648.4,477.7 L646.5,478.4 L644.6,479.2 L642.7,479.9 L640.8,480.6 L638.9,481.3 L637.0,482.0 L635.1,482.7 L633.2,483.4 L631.3,484.1 L629.4,484.8 L627.5,485.5 L625.6,486.2 L623.7,486.9 L621.8,487.6 L619.8,488.3 L617.9,489.0 L616.0,489.7 L614.1,490.4 L612.2,491.1 L610.3,491.7 L608.4,492.4 L606.5,493.1 L604.5,493.8 L602.6,494.4 L600.7,495.1 L598.8,495.8 L596.9,496.4 L595.0,497.1 L593.0,497.7 L591.1,498.4 L589.2,499.0 L587.3,499.7 L585.4,500.3 L583.4,500.9 L581.5,501.6 L579.6,502.2 L577.7,502.8 L575.7,503.5 L573.8,504.1 L571.9,504.7 L570.0,505.3 L568.0,506.0 L566.1,506.6 L564.2,507.2 L562.3,507.8 L560.3,508.4 L558.4,509.0 L556.5,509.6 L554.6,510.2 L552.6,510.8 L550.7,511.4 L548.8,512.0 L546.8,512.6 L544.9,513.2 L543.0,513.8 L541.0,514.3 L539.1,514.9 L537.2,515.5 L535.2,516.1 L533.3,516.7 L531.4,517.2 L529.4,517.8 L527.5,518.4 L525.6,518.9 L523.6,519.5 L521.7,520.1 L519.8,520.6 L517.8,521.2 L515.9,521.7 L514.0,522.3 L512.0,522.8 L510.1,523.4 L508.1,523.9 L506.2,524.5 L504.3,525.0 L502.3,525.5 L500.4,526.1 L498.4,526.6 L496.5,527.1 L494.6,527.7 L492.6,528.2 L490.7,528.7 L488.7,529.3 L486.8,529.8 L484.8,530.3 L482.9,530.8 L480.9,531.3 L479.0,531.8 L477.0,532.4 L475.1,532.9 L473.1,533.4 L471.2,533.9 L469.2,534.4 L467.3,534.9 L465.3,535.4 L463.4,535.9 L461.4,536.4 L459.5,536.9 L457.5,537.4 L455.6,537.8 L453.6,538.3 L451.6,538.8 L449.7,539.3 L447.7,539.8 L445.8,540.3 L443.8,540.7 L441.8,541.2 L439.9,541.7 L437.9,542.2 L435.9,542.6 L434.0,543.1 L432.0,543.6 L430.0,544.0 L428.1,544.5 L426.1,545.0 L424.1,545.4 L422.2,545.9 L420.2,546.3 L418.2,546.8 L416.3,547.2 L414.3,547.7 L412.3,548.1 L410.3,548.6 L408.3,549.0 L406.4,549.5 L404.4,549.9 L402.4,550.3 L400.4,550.8 L398.5,551.2 L396.5,551.6 L394.5,552.1 L392.5,552.5 L390.5,552.9 L388.6,553.4 L386.6,553.8 L384.6,554.2 L382.6,554.6 L380.6,555.1 L378.6,555.5 L376.6,555.9 L374.7,556.3 L372.7,556.7 L370.7,557.2 L368.7,557.6 L366.7,558.0 L364.7,558.4 L362.7,558.8 L360.7,559.2 L358.7,559.6 L356.7,560.0 L354.8,560.4 L352.8,560.8 L350.8,561.2 L348.8,561.6 L346.8,561.9 L344.8,562.3 L342.8,562.7 L340.8,563.1 L338.8,563.5 L336.8,563.9 L334.8,564.2 L332.8,564.6 L330.8,565.0 L328.8,565.4 L326.8,565.7 L324.8,566.1 L322.8,566.5 L320.9,566.9 L318.9,567.2 L316.9,567.6 L314.9,567.9 L312.9,568.3 L310.9,568.7 L308.9,569.0 L306.9,569.4 L304.9,569.7 L302.9,570.1 L300.9,570.4 L298.9,570.8 L296.9,571.1 L294.9,571.4 L293.0,571.8 L291.0,572.1 L289.0,572.4 L287.0,572.8 L285.0,573.1 L283.0,573.4 L281.0,573.7 L279.0,574.0 L277.0,574.3 L275.0,574.6 L273.0,574.9 L271.0,575.2 L269.1,575.5 L267.1,575.8 L265.1,576.0 L263.1,576.3 L261.1,576.6 L259.1,576.8 L257.1,577.0 L255.1,577.3 L253.1,577.5 L251.1,577.7 L249.1,577.9 L247.1,578.1 L245.1,578.3 L243.1,578.4 L241.2,578.6 L239.2,578.8 L237.2,579.0 L235.2,579.2 L233.2,579.3 L231.2,579.5 L229.2,579.6 L227.2,579.7 L225.2,579.9 L223.2,580.0 L221.2,580.1 L219.2,580.2 L217.2,580.3 L215.2,580.4 L213.2,580.4 L211.2,580.5 L209.3,580.5 L207.5,580.5 L205.9,580.5 L204.1,580.5 L202.3,580.5 L200.2,580.5 L197.8,580.5 L195.0,580.4 L191.5,580.3 L187.5,580.2 L183.0,580.1 L178.4,580.0 L173.7,579.9 L169.3,579.7 L165.2,579.5 L161.7,579.3 L158.7,579.0 L156.1,578.7 L153.7,578.4 L151.6,578.0 L149.7,577.6 L147.9,577.2 L146.2,576.8 L144.5,576.4 L142.9,576.0 L141.6,575.6 L140.4,575.2 L139.3,574.8 L138.2,574.4 L137.2,573.9 L136.1,573.5 L135.0,573.1 L144.5,570.5 L106.9,561.2 L106.4,581.7 L115.5,578.3 L117.7,578.9 L119.8,579.5 L122.0,580.2 L124.2,580.8 L126.3,581.4 L128.5,582.0 L130.7,582.6 L133.0,583.1 L135.3,583.6 L137.6,584.0 L140.0,584.4 L142.4,584.8 L144.8,585.2 L147.2,585.5 L149.6,585.8 L152.0,586.0 L154.4,586.2 L156.7,586.4 L159.0,586.5 L161.3,586.6 L163.7,586.7 L166.1,586.7 L168.6,586.7 L171.2,586.7 L174.0,586.6 L177.0,586.5 L180.1,586.3 L183.3,586.0 L186.4,585.8 L189.5,585.6 L192.4,585.4 L195.0,585.2 L197.4,585.1 L199.6,585.0 L201.7,585.0 L203.7,584.9 L205.6,584.9 L207.4,584.8 L209.4,584.8 L211.3,584.7 L213.4,584.6 L215.4,584.4 L217.4,584.3 L219.4,584.1 L221.4,583.9 L223.5,583.8 L225.5,583.6 L227.5,583.4 L229.5,583.2 L231.5,583.0 L233.5,582.8 L235.5,582.5 L237.5,582.3 L239.5,582.0 L241.5,581.8 L243.5,581.5 L245.5,581.2 L247.5,581.0 L249.5,580.7 L251.5,580.4 L253.5,580.0 L255.4,579.7 L257.4,579.4 L259.4,579.1 L261.4,578.8 L263.4,578.5 L265.4,578.1 L267.4,577.8 L269.4,577.5 L271.3,577.2 L273.3,576.8 L275.3,576.5 L277.3,576.2 L279.3,575.8 L281.3,575.5 L283.3,575.1 L285.3,574.8 L287.3,574.5 L289.3,574.1 L291.2,573.8 L293.2,573.4 L295.2,573.0 L297.2,572.7 L299.2,572.3 L301.2,571.9 L303.2,571.6 L305.2,571.2 L307.2,570.8 L309.2,570.4 L311.1,570.1 L313.1,569.7 L315.1,569.3 L317.1,568.9 L319.1,568.5 L321.1,568.1 L323.1,567.7 L325.1,567.3 L327.1,566.9 L329.1,566.5 L331.1,566.1 L333.0,565.7 L335.0,565.3 L337.0,564.9 L339.0,564.5 L341.0,564.1 L343.0,563.7 L345.0,563.3 L347.0,562.9 L349.0,562.5 L350.9,562.0 L352.9,561.6 L354.9,561.2 L356.9,560.8 L358.9,560.4 L360.9,559.9 L362.9,559.5 L364.9,559.1 L366.8,558.7 L368.8,558.2 L370.8,557.8 L372.8,557.4 L374.8,557.0 L376.8,556.5 L378.8,556.1 L380.7,555.7 L382.7,555.2 L384.7,554.8 L386.7,554.4 L388.7,553.9 L390.7,553.5 L392.6,553.1 L394.6,552.6 L396.6,552.2 L398.6,551.7 L400.6,551.3 L402.5,550.9 L404.5,550.4 L406.5,550.0 L408.5,549.5 L410.4,549.1 L412.4,548.6 L414.4,548.1 L416.4,547.7 L418.3,547.2 L420.3,546.8 L422.3,546.3 L424.2,545.8 L426.2,545.4 L428.2,544.9 L430.1,544.4 L432.1,544.0 L434.1,543.5 L436.0,543.0 L438.0,542.6 L440.0,542.1 L441.9,541.6 L443.9,541.1 L445.9,540.7 L447.8,540.2 L449.8,539.7 L451.7,539.2 L453.7,538.7 L455.7,538.2 L457.6,537.7 L459.6,537.3 L461.5,536.8 L463.5,536.3 L465.4,535.8 L467.4,535.3 L469.3,534.8 L471.3,534.3 L473.2,533.8 L475.2,533.3 L477.1,532.7 L479.1,532.2 L481.0,531.7 L483.0,531.2 L484.9,530.7 L486.9,530.2 L488.8,529.6 L490.8,529.1 L492.7,528.6 L494.7,528.1 L496.6,527.5 L498.6,527.0 L500.5,526.5 L502.4,525.9 L504.4,525.4 L506.3,524.8 L508.3,524.3 L510.2,523.8 L512.1,523.2 L514.1,522.7 L516.0,522.1 L517.9,521.6 L519.9,521.0 L521.8,520.4 L523.8,519.9 L525.7,519.3 L527.6,518.7 L529.6,518.2 L531.5,517.6 L533.4,517.0 L535.4,516.5 L537.3,515.9 L539.2,515.3 L541.2,514.7 L543.1,514.1 L545.0,513.6 L547.0,513.0 L548.9,512.4 L550.8,511.8 L552.7,511.2 L554.7,510.6 L556.6,510.0 L558.5,509.4 L560.5,508.8 L562.4,508.2 L564.3,507.6 L566.2,506.9 L568.2,506.3 L570.1,505.7 L572.0,505.1 L573.9,504.5 L575.9,503.9 L577.8,503.2 L579.7,502.6 L581.6,502.0 L583.6,501.3 L585.5,500.7 L587.4,500.1 L589.3,499.4 L591.3,498.8 L593.2,498.2 L595.1,497.5 L597.0,496.9 L599.0,496.2 L600.9,495.6 L602.8,494.9 L604.7,494.3 L606.6,493.6 L608.6,493.0 L610.5,492.3 L612.4,491.7 L614.3,491.0 L616.2,490.3 L618.2,489.7 L620.1,489.0 L622.0,488.3 L623.9,487.7 L625.8,487.0 L627.8,486.3 L629.7,485.6 L631.6,484.9 L633.5,484.3 L635.4,483.6 L637.3,482.9 L639.2,482.2 L641.2,481.5 L643.1,480.8 L645.0,480.1 L646.9,479.4 L648.8,478.7 L650.7,478.0 L652.6,477.3 L654.5,476.6 L656.4,475.9 L658.3,475.1 L660.2,474.4 L662.1,473.7 L664.0,473.0 L665.9,472.2 L667.8,471.5 L669.7,470.8 L671.6,470.1 L673.5,469.3 L675.4,468.6 L677.3,467.8 L679.2,467.1 L681.1,466.4 L683.0,465.6 L684.9,464.9 L686.7,464.1 L688.6,463.3 L690.5,462.6 L692.4,461.8 L694.3,461.1 L696.2,460.3 L698.0,459.5 L699.9,458.8 L701.8,458.0 L703.7,457.2 L705.5,456.5 L707.4,455.7 L709.3,454.9 L711.2,454.1 L713.0,453.3 L714.9,452.5 L716.7,451.7 L718.6,450.9 L720.5,450.1 L722.3,449.3 L724.2,448.5 L726.0,447.7 L727.9,446.9 L729.7,446.1 L731.6,445.3 L733.4,444.5 L735.3,443.7 L737.1,442.9 L739.0,442.1 L740.8,441.2 L742.7,440.4 L744.5,439.6 L746.4,438.8 L748.2,438.0 L750.0,437.1 L751.9,436.3 L753.7,435.5 L755.5,434.7 L757.4,433.8 L759.2,433.0 L761.1,432.2 L762.9,431.3 L764.7,430.5 L766.6,429.7 L768.4,428.8 L770.2,428.0 L772.1,427.2 L773.9,426.3 L775.7,425.5 L777.6,424.6 L779.4,423.8 L781.2,423.0 L783.1,422.2 L784.9,421.3 L786.8,420.6 L788.6,419.8 L790.5,419.1 L792.3,418.4 L794.2,417.7 L796.1,416.9 L798.0,416.1 L800.0,415.2 L802.0,414.2 L804.1,413.2 L806.2,412.1 L808.3,410.9 L810.5,409.8 L812.6,408.6 L814.8,407.5 L816.9,406.3 L819.0,405.2 L821.1,404.0 L823.3,402.9 L825.4,401.7 L827.5,400.6 L829.7,399.4 L831.8,398.2 L833.9,397.0 L836.0,395.8 L838.1,394.6 L840.2,393.4 L842.4,392.1 L844.5,390.9 L846.6,389.6 L848.7,388.3 L850.8,386.9 L852.9,385.5 L855.1,384.0 L857.3,382.5 L859.5,381.0 L861.6,379.5 L863.7,378.0 L865.8,376.5 L867.7,375.0 L869.6,373.6 L871.4,372.2 L873.2,370.8 L874.9,369.4 L876.5,368.0 L878.1,366.7 L879.7,365.3 L881.2,364.0 L882.7,362.7 L884.1,361.4 L885.4,360.2 L886.7,358.9 L888.0,357.7 L889.2,356.4 L890.3,355.2 L891.4,353.9 L892.4,352.6 L893.4,351.3 L894.4,350.0 L895.2,348.7 L896.1,347.4 L896.8,346.1 L897.6,344.9 L898.2,343.7 L898.8,342.6 L899.3,341.5 L899.7,340.4 L900.1,339.4 L900.4,338.4 L900.7,337.3 L901.0,336.3 L901.2,335.2 L901.4,334.1 L901.5,332.9 L901.5,331.8 L901.6,330.6 L901.6,329.4 L901.6,328.2 L901.6,327.1 L901.6,325.9Z" fill="#f4b183" stroke="#160c04" stroke-width="1.45" stroke-linejoin="miter" stroke-miterlimit="6"/>
<rect x="454.5" y="73.7" width="152" height="39" fill="none" stroke="#7f7f7f" stroke-width="3"/>
<text x="464.4" y="101.9" font-size="23.2" fill="#7f7f7f" text-anchor="start" textLength="131.4" lengthAdjust="spacingAndGlyphs">Atmosphère</text>
<rect x="455" y="396.5" width="145.2" height="39.6" fill="none" stroke="#bf9000" stroke-width="3"/>
<text x="462" y="424" font-size="23.2" fill="#bf9000" text-anchor="start" textLength="127.6" lengthAdjust="spacingAndGlyphs">Pédosphère</text>
<rect x="451.5" y="457.7" width="157.3" height="40.4" fill="none" stroke="#0070c0" stroke-width="3"/>
<text x="461" y="486" font-size="23.2" fill="#0070c0" text-anchor="start" textLength="137" lengthAdjust="spacingAndGlyphs">Hydrosphère</text>
<rect x="688.7" y="211.5" width="39.8" height="126" fill="none" stroke="#ff0000" stroke-width="3"/>
<path d="M532.6,113.3 L544.9,126.0 L539.1,126.0 L539.1,156.8 L544.9,156.8 L532.6,169.5 L520.3000000000001,156.8 L526.1,156.8 L526.1,126.0 L520.3000000000001,126.0Z" fill="#4472c4"/>
<path d="M525.3,367.4 L535.0999999999999,377.59999999999997 L530.4,377.59999999999997 L530.4,389.2 L535.0999999999999,389.2 L525.3,399.4 L515.5,389.2 L520.1999999999999,389.2 L520.1999999999999,377.59999999999997 L515.5,377.59999999999997Z" fill="#4472c4"/>
<path d="M528.3,428.8 L542.6999999999999,442.1 L536.6999999999999,442.1 L536.6999999999999,450.0 L542.6999999999999,450.0 L528.3,463.3 L513.9,450.0 L519.9,450.0 L519.9,442.1 L513.9,442.1Z" fill="#4472c4"/>
<path d="M628.3,229.9 L639.9,218.70000000000002 L639.9,224.4 L687.0,224.4 L687.0,218.70000000000002 L698.6,229.9 L687.0,241.1 L687.0,235.4 L639.9,235.4 L639.9,241.1Z" fill="#4472c4"/>
<path d="M630.7,319.9 L642.5,309.2 L642.5,314.59999999999997 L687.5,314.59999999999997 L687.5,309.2 L699.3,319.9 L687.5,330.59999999999997 L687.5,325.2 L642.5,325.2 L642.5,330.59999999999997Z" fill="#4472c4"/>
<rect x="688.7" y="211.5" width="39.8" height="126" fill="none" stroke="#ff0000" stroke-width="3"/>
<path d="M226,273.5 L754,273.5 L754,269.5 L762,278 L754,286.4 L754,282.5 L226,282.5Z" fill="#000"/>
<text transform="translate(718,327.5) rotate(-90)" font-size="23" fill="#ff0000" textLength="105.5" lengthAdjust="spacingAndGlyphs">Biosphère</text>
<ellipse cx="899.5" cy="275.2" rx="132.9" ry="57.3" fill="none" stroke="#000" stroke-width="4.3"/>
<text x="849.8" y="259" font-size="19.2" fill="#000" text-anchor="start" textLength="99.2" lengthAdjust="spacingAndGlyphs">Production</text>
<text x="849.8" y="285.4" font-size="19.2" fill="#000" text-anchor="start" textLength="140.2" lengthAdjust="spacingAndGlyphs">Environnement</text>
<text x="849.8" y="311.3" font-size="19.2" fill="#000" text-anchor="start" textLength="109.2" lengthAdjust="spacingAndGlyphs">Biodiversité</text>
<path d="M608,90 L802.9,233.5 M792.0,232.3 L802.9,233.5 L798.5,223.4" fill="none" stroke="#7f7f7f" stroke-width="3" stroke-linejoin="miter"/>
<path d="M730,224 L767,258.8 M756.3,256.3 L767,258.8 L763.8,248.3" fill="none" stroke="#ff0000" stroke-width="2.9" stroke-linejoin="miter"/>
<path d="M730,314.3 L765.4,293.8 M759.9,303.3 L765.4,293.8 L754.4,293.8" fill="none" stroke="#ff0000" stroke-width="2.9" stroke-linejoin="miter"/>
<path d="M601.5,418 L803.4,317.2 M797.3,326.4 L803.4,317.2 L792.4,316.5" fill="none" stroke="#bf9000" stroke-width="3" stroke-linejoin="miter"/>
<path d="M610,479.4 L857.6,333.2 M852.2,342.8 L857.6,333.2 L846.6,333.3" fill="none" stroke="#0070c0" stroke-width="3" stroke-linejoin="miter"/>
<ellipse cx="121.4" cy="276.4" rx="103.5" ry="33.5" fill="#d9d9d9" stroke="#000" stroke-width="3"/>
<ellipse cx="126" cy="358" rx="107.7" ry="29.6" fill="#d9d9d9" stroke="#000" stroke-width="3"/>
<ellipse cx="120.5" cy="436.6" rx="106.5" ry="29.5" fill="#d9d9d9" stroke="#000" stroke-width="3"/>
<ellipse cx="168.7" cy="522.8" rx="151.2" ry="37.7" fill="#f4b183" stroke="#000" stroke-width="3"/>
<path d="M123.8,304.4 L133,314 L129.4,314 L129.4,330 L118.4,330 L118.4,314 L115,314Z" fill="#000"/>
<path d="M124.3,385 L133.5,394.5 L129.8,394.5 L129.8,409 L118.8,409 L118.8,394.5 L115.2,394.5Z" fill="#000"/>
<path d="M123.3,456 L139.6,472.6 L131.4,472.6 L131.4,495.8 L114.8,495.8 L114.8,472.6 L106.6,472.6Z" fill="#f4b183" stroke="#000" stroke-width="3" stroke-linejoin="miter"/>
<text x="121.2" y="270" font-size="17.2" fill="#000" text-anchor="middle" textLength="113" lengthAdjust="spacingAndGlyphs">Perturbations</text>
<text x="121.2" y="293.7" font-size="17.2" fill="#000" text-anchor="middle" textLength="96.4" lengthAdjust="spacingAndGlyphs">écosystème</text>
<text x="125.5" y="353" font-size="17.2" fill="#000" text-anchor="middle" textLength="109" lengthAdjust="spacingAndGlyphs">Interventions</text>
<text x="125.5" y="376" font-size="17.2" fill="#000" text-anchor="middle" textLength="79" lengthAdjust="spacingAndGlyphs">culturales</text>
<text x="120.5" y="430" font-size="17.2" fill="#000" text-anchor="middle" textLength="67.5" lengthAdjust="spacingAndGlyphs">Système</text>
<text x="120.5" y="454" font-size="17.2" fill="#000" text-anchor="middle" textLength="80.3" lengthAdjust="spacingAndGlyphs">technique</text>
<text x="168.8" y="518.6" font-size="17.2" fill="#000" text-anchor="middle" textLength="164" lengthAdjust="spacingAndGlyphs">Système de décision</text>
<text x="169.3" y="542.4" font-size="17.2" fill="#000" text-anchor="middle" textLength="167" lengthAdjust="spacingAndGlyphs">Diagnostic-pronostic</text>
<path d="M495.9,291.8 L496.6,292.9 L497.4,293.9 L498.1,295.0 L498.9,296.1 L499.6,297.1 L500.3,298.2 L500.9,299.3 L501.5,300.5 L502.0,301.7 L502.5,302.9 L502.9,304.2 L503.3,305.5 L503.6,306.7 L504.0,308.0 L504.2,309.3 L504.5,310.6 L504.7,311.9 L504.9,313.2 L505.1,314.5 L505.2,315.8 L505.3,317.0 L505.4,318.3 L505.5,319.6 L505.5,320.8 L505.5,322.0 L505.5,323.1 L505.5,324.2 L505.5,325.3 L505.4,326.4 L505.3,327.5 L505.2,328.7 L505.0,330.0 L504.8,331.3 L504.6,332.6 L504.4,333.9 L504.2,335.2 L503.9,336.7 L503.5,338.3 L503.1,340.0 L502.6,342.0 L502.0,344.2 L501.3,346.7 L500.6,349.4 L499.8,352.3 L498.9,355.1 L498.1,358.0 L497.2,360.7 L496.3,363.3 L495.4,365.7 L494.6,368.0 L493.7,370.2 L492.8,372.4 L491.8,374.5 L490.8,376.8 L489.7,379.1 L488.5,381.6 L487.2,384.3 L485.7,387.3 L484.1,390.3 L482.5,393.4 L480.9,396.5 L479.3,399.4 L477.8,402.1 L476.4,404.5 L475.2,406.5 L474.0,408.3 L472.9,409.8 L471.9,411.2 L470.9,412.6 L469.9,413.9 L468.9,415.2 L467.9,416.6 L466.8,418.1 L465.8,419.6 L464.7,421.2 L463.7,422.7 L462.6,424.2 L461.6,425.7 L460.5,427.2 L459.4,428.7 L458.4,430.2 L457.3,431.7 L456.3,433.2 L455.2,434.7 L454.2,436.2 L453.1,437.7 L452.0,439.2 L450.9,440.6 L449.8,442.1 L448.7,443.6 L447.6,445.1 L446.5,446.5 L445.4,448.0 L444.3,449.4 L443.1,450.8 L442.0,452.3 L440.8,453.7 L439.6,455.1 L438.5,456.5 L437.3,457.9 L436.1,459.3 L434.9,460.7 L433.6,462.0 L432.4,463.4 L431.2,464.7 L429.9,466.1 L428.7,467.4 L427.4,468.7 L426.1,470.0 L424.8,471.4 L423.5,472.7 L422.2,473.9 L420.9,475.2 L419.6,476.5 L418.2,477.8 L416.9,479.0 L415.5,480.3 L414.2,481.5 L412.8,482.7 L411.4,483.9 L410.0,485.2 L408.6,486.4 L407.2,487.6 L405.8,488.7 L404.4,489.9 L403.0,491.1 L401.6,492.3 L400.2,493.4 L398.7,494.6 L397.3,495.7 L395.8,496.9 L394.4,498.0 L392.9,499.1 L391.5,500.3 L390.0,501.4 L388.6,502.5 L387.1,503.6 L385.6,504.7 L384.1,505.8 L382.7,506.9 L381.2,508.0 L379.7,509.1 L378.2,510.1 L376.7,511.2 L375.2,512.3 L373.7,513.3 L372.2,514.4 L370.7,515.5 L369.2,516.5 L367.7,517.5 L366.2,518.6 L364.7,519.6 L363.2,520.6 L361.7,521.6 L360.1,522.6 L358.6,523.6 L357.1,524.6 L355.5,525.6 L354.0,526.6 L352.4,527.6 L350.9,528.5 L349.3,529.5 L347.8,530.5 L346.2,531.5 L344.7,532.4 L343.1,533.3 L341.5,534.3 L339.8,535.2 L338.2,536.1 L336.5,536.9 L334.8,537.8 L333.1,538.7 L331.3,539.5 L329.6,540.3 L327.8,541.1 L326.0,541.8 L324.1,542.5 L322.2,543.2 L320.3,543.9 L318.3,544.5 L316.4,545.1 L314.5,545.6 L312.6,546.0 L310.8,546.4 L309.1,546.7 L307.4,546.8 L305.8,546.9 L304.3,546.9 L302.7,546.9 L301.1,546.9 L299.6,546.9 L298.0,546.9 L300.6,542.8 L277.8,547.2 L283.4,564.7 L288.0,559.0 L290.2,558.7 L292.5,558.4 L294.7,558.2 L297.0,557.9 L299.2,557.6 L301.4,557.3 L303.6,556.9 L305.7,556.5 L307.7,556.0 L309.5,555.6 L311.3,555.1 L313.1,554.6 L314.9,554.0 L316.8,553.3 L318.8,552.5 L321.0,551.5 L323.5,550.3 L326.2,548.9 L329.1,547.3 L332.0,545.6 L334.9,544.0 L337.7,542.3 L340.3,540.7 L342.6,539.3 L344.5,538.1 L346.3,536.9 L347.8,535.8 L349.2,534.8 L350.5,533.8 L351.8,532.8 L353.1,531.7 L354.6,530.7 L356.0,529.6 L357.5,528.5 L359.0,527.4 L360.5,526.3 L361.9,525.2 L363.4,524.1 L364.9,523.0 L366.3,521.9 L367.8,520.8 L369.3,519.6 L370.7,518.5 L372.2,517.4 L373.6,516.3 L375.1,515.2 L376.6,514.1 L378.0,513.0 L379.5,511.8 L380.9,510.7 L382.4,509.6 L383.8,508.4 L385.3,507.3 L386.7,506.2 L388.2,505.0 L389.6,503.9 L391.0,502.7 L392.5,501.5 L393.9,500.4 L395.3,499.2 L396.8,498.0 L398.2,496.8 L399.6,495.7 L401.0,494.5 L402.4,493.3 L403.8,492.1 L405.2,490.8 L406.6,489.6 L408.0,488.4 L409.3,487.2 L410.7,485.9 L412.1,484.7 L413.4,483.4 L414.8,482.2 L416.1,480.9 L417.5,479.6 L418.8,478.3 L420.1,477.0 L421.4,475.7 L422.7,474.4 L424.0,473.1 L425.3,471.8 L426.6,470.5 L427.8,469.1 L429.1,467.8 L430.3,466.5 L431.6,465.1 L432.8,463.7 L434.0,462.4 L435.2,461.0 L436.4,459.6 L437.6,458.2 L438.8,456.8 L440.0,455.4 L441.1,453.9 L442.3,452.5 L443.4,451.1 L444.6,449.6 L445.7,448.2 L446.8,446.7 L447.9,445.3 L449.0,443.8 L450.1,442.4 L451.2,440.9 L452.3,439.4 L453.4,437.9 L454.5,436.4 L455.6,435.0 L456.7,433.5 L457.7,432.0 L458.8,430.5 L459.9,429.0 L461.0,427.5 L462.0,426.0 L463.1,424.5 L464.1,423.0 L465.2,421.5 L466.3,420.0 L467.4,418.5 L468.5,417.1 L469.6,415.7 L470.7,414.6 L471.8,413.4 L472.9,412.3 L474.0,411.1 L475.2,409.7 L476.5,408.0 L477.9,406.0 L479.4,403.6 L481.1,400.8 L482.9,397.7 L484.8,394.4 L486.6,391.1 L488.4,387.8 L490.1,384.6 L491.6,381.6 L493.0,378.8 L494.3,376.0 L495.5,373.3 L496.7,370.6 L497.8,367.9 L498.8,365.3 L499.9,362.8 L500.9,360.3 L501.9,357.8 L502.9,355.4 L503.9,352.9 L504.8,350.6 L505.7,348.3 L506.5,346.1 L507.3,344.0 L508.0,342.0 L508.7,340.2 L509.3,338.5 L509.9,336.9 L510.4,335.4 L510.9,334.0 L511.3,332.7 L511.7,331.3 L512.1,330.0 L512.4,328.7 L512.7,327.5 L512.9,326.4 L513.1,325.3 L513.3,324.2 L513.4,323.1 L513.5,322.0 L513.7,320.8 L513.9,319.6 L514.0,318.3 L514.2,317.0 L514.3,315.8 L514.4,314.5 L514.5,313.2 L514.6,311.9 L514.7,310.6 L514.8,309.3 L514.8,308.1 L514.9,306.8 L514.9,305.6 L514.9,304.3 L514.9,303.0 L514.8,301.8 L514.7,300.5 L514.6,299.2 L514.4,297.9 L514.3,296.6 L514.1,295.3 L513.8,294.0 L513.5,292.7 L513.1,291.5 L512.6,290.3 L512.0,289.2 L511.2,288.1 L510.3,287.1 L509.4,286.1 L508.4,285.1 L507.4,284.2 L506.4,283.2 L505.5,282.2Z" fill="#f4b183" stroke="#160c04" stroke-width="1.45" stroke-linejoin="miter" stroke-miterlimit="6"/>
</svg>
</body></html>
